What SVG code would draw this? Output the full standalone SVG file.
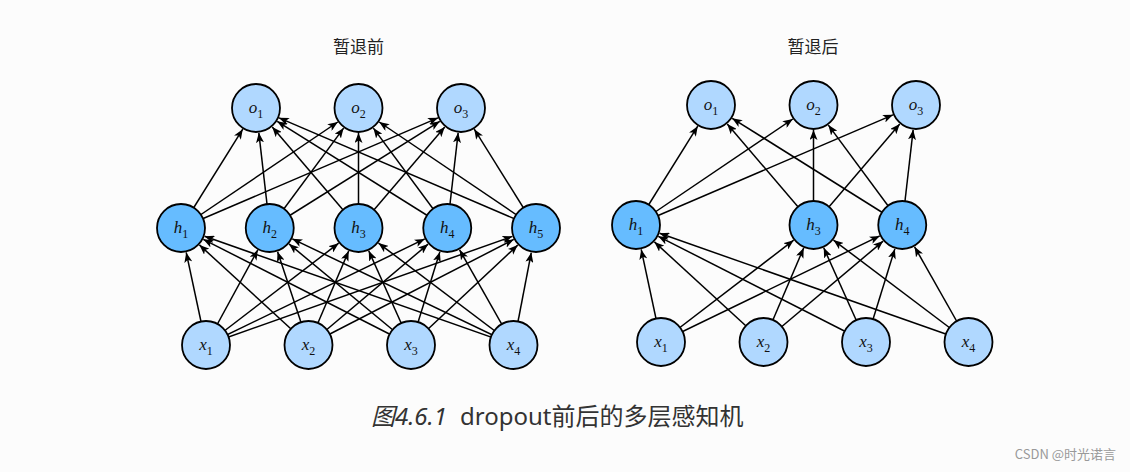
<svg xmlns="http://www.w3.org/2000/svg" width="1130" height="472" viewBox="0 0 1130 472">
<style>
.e{stroke:#000;stroke-width:1.5;fill:none;marker-end:url(#ah)}
.n circle{stroke:#000;stroke-width:1.8}
.lo{fill:#b0d8ff}
.hi{fill:#66bcff}
.lbl{font-family:"Liberation Serif","DejaVu Serif",serif;font-size:17px;font-style:italic;fill:#111;text-anchor:middle}
.sub{font-size:12px;font-style:normal}
.title{font-family:"Noto Sans CJK SC","Noto Sans",sans-serif;font-size:17px;fill:#222;text-anchor:middle}
</style>
<defs>
<marker id="ah" viewBox="0 0 10 8" refX="10" refY="4" markerWidth="10" markerHeight="8" markerUnits="userSpaceOnUse" orient="auto">
<path d="M0,0 L10,4 L0,8 L2.5,4 z" fill="#000"/>
</marker>
</defs>
<rect width="1130" height="472" fill="#fcfcfc"/>

<text class="title" x="358.5" y="53">暂退前</text>
<text class="title" x="813" y="53">暂退后</text>

<g id="left-net">
<g id="connectors-left">
<line class="e" x1="206" y1="345" x2="186.22" y2="252.45"/>
<line class="e" x1="206" y1="345" x2="257.79" y2="249.95"/>
<line class="e" x1="206" y1="345" x2="338.67" y2="243.22"/>
<line class="e" x1="206" y1="345" x2="424.76" y2="238.91"/>
<line class="e" x1="206" y1="345" x2="512.44" y2="236.35"/>
<line class="e" x1="308.5" y1="345" x2="199.42" y2="244.90"/>
<line class="e" x1="308.5" y1="345" x2="277.61" y2="251.73"/>
<line class="e" x1="308.5" y1="345" x2="348.68" y2="250.99"/>
<line class="e" x1="308.5" y1="345" x2="428.14" y2="244.12"/>
<line class="e" x1="308.5" y1="345" x2="513.77" y2="239.43"/>
<line class="e" x1="411" y1="345" x2="203.28" y2="239.33"/>
<line class="e" x1="411" y1="345" x2="289.00" y2="243.95"/>
<line class="e" x1="411" y1="345" x2="368.73" y2="250.81"/>
<line class="e" x1="411" y1="345" x2="439.85" y2="251.88"/>
<line class="e" x1="411" y1="345" x2="517.75" y2="245.08"/>
<line class="e" x1="513.5" y1="345" x2="204.58" y2="236.30"/>
<line class="e" x1="513.5" y1="345" x2="292.29" y2="238.82"/>
<line class="e" x1="513.5" y1="345" x2="378.45" y2="243.06"/>
<line class="e" x1="513.5" y1="345" x2="459.57" y2="249.76"/>
<line class="e" x1="513.5" y1="345" x2="531.28" y2="252.55"/>
<line class="e" x1="181" y1="228" x2="242.75" y2="129.20"/>
<line class="e" x1="181" y1="228" x2="337.79" y2="122.00"/>
<line class="e" x1="181" y1="228" x2="438.02" y2="117.85"/>
<line class="e" x1="269.75" y1="228" x2="258.85" y2="132.84"/>
<line class="e" x1="269.75" y1="228" x2="343.63" y2="128.10"/>
<line class="e" x1="269.75" y1="228" x2="439.82" y2="121.29"/>
<line class="e" x1="358.5" y1="228" x2="272.24" y2="127.01"/>
<line class="e" x1="358.5" y1="228" x2="358.5" y2="133"/>
<line class="e" x1="358.5" y1="228" x2="444.76" y2="127.01"/>
<line class="e" x1="447.25" y1="228" x2="277.18" y2="121.29"/>
<line class="e" x1="447.25" y1="228" x2="373.37" y2="128.10"/>
<line class="e" x1="447.25" y1="228" x2="458.15" y2="132.84"/>
<line class="e" x1="536" y1="228" x2="278.98" y2="117.85"/>
<line class="e" x1="536" y1="228" x2="379.21" y2="122.00"/>
<line class="e" x1="536" y1="228" x2="474.25" y2="129.20"/>
</g>
<g id="L-o1" class="n"><circle class="lo" cx="256" cy="108" r="24"/><text class="lbl" x="256" y="113">o<tspan class="sub" dy="5">1</tspan></text></g>
<g id="L-o2" class="n"><circle class="lo" cx="358.5" cy="108" r="24"/><text class="lbl" x="358.5" y="113">o<tspan class="sub" dy="5">2</tspan></text></g>
<g id="L-o3" class="n"><circle class="lo" cx="461" cy="108" r="24"/><text class="lbl" x="461" y="113">o<tspan class="sub" dy="5">3</tspan></text></g>
<g id="L-h1" class="n"><circle class="hi" cx="181" cy="228" r="24"/><text class="lbl" x="181" y="233">h<tspan class="sub" dy="5">1</tspan></text></g>
<g id="L-h2" class="n"><circle class="hi" cx="269.75" cy="228" r="24"/><text class="lbl" x="269.75" y="233">h<tspan class="sub" dy="5">2</tspan></text></g>
<g id="L-h3" class="n"><circle class="hi" cx="358.5" cy="228" r="24"/><text class="lbl" x="358.5" y="233">h<tspan class="sub" dy="5">3</tspan></text></g>
<g id="L-h4" class="n"><circle class="hi" cx="447.25" cy="228" r="24"/><text class="lbl" x="447.25" y="233">h<tspan class="sub" dy="5">4</tspan></text></g>
<g id="L-h5" class="n"><circle class="hi" cx="536" cy="228" r="24"/><text class="lbl" x="536" y="233">h<tspan class="sub" dy="5">5</tspan></text></g>
<g id="L-x1" class="n"><circle class="lo" cx="206" cy="345" r="24"/><text class="lbl" x="206" y="350">x<tspan class="sub" dy="5">1</tspan></text></g>
<g id="L-x2" class="n"><circle class="lo" cx="308.5" cy="345" r="24"/><text class="lbl" x="308.5" y="350">x<tspan class="sub" dy="5">2</tspan></text></g>
<g id="L-x3" class="n"><circle class="lo" cx="411" cy="345" r="24"/><text class="lbl" x="411" y="350">x<tspan class="sub" dy="5">3</tspan></text></g>
<g id="L-x4" class="n"><circle class="lo" cx="513.5" cy="345" r="24"/><text class="lbl" x="513.5" y="350">x<tspan class="sub" dy="5">4</tspan></text></g>
</g>

<g id="right-net" transform="translate(455,-3)">
<g id="connectors-right">
<line class="e" x1="206" y1="345" x2="186.22" y2="252.45"/>
<line class="e" x1="206" y1="345" x2="338.67" y2="243.22"/>
<line class="e" x1="206" y1="345" x2="424.76" y2="238.91"/>
<line class="e" x1="308.5" y1="345" x2="199.42" y2="244.90"/>
<line class="e" x1="308.5" y1="345" x2="348.68" y2="250.99"/>
<line class="e" x1="308.5" y1="345" x2="428.14" y2="244.12"/>
<line class="e" x1="411" y1="345" x2="203.28" y2="239.33"/>
<line class="e" x1="411" y1="345" x2="368.73" y2="250.81"/>
<line class="e" x1="411" y1="345" x2="439.85" y2="251.88"/>
<line class="e" x1="513.5" y1="345" x2="204.58" y2="236.30"/>
<line class="e" x1="513.5" y1="345" x2="378.45" y2="243.06"/>
<line class="e" x1="513.5" y1="345" x2="459.57" y2="249.76"/>
<line class="e" x1="181" y1="228" x2="242.75" y2="129.20"/>
<line class="e" x1="181" y1="228" x2="337.79" y2="122.00"/>
<line class="e" x1="181" y1="228" x2="438.02" y2="117.85"/>
<line class="e" x1="358.5" y1="228" x2="272.24" y2="127.01"/>
<line class="e" x1="358.5" y1="228" x2="358.5" y2="133"/>
<line class="e" x1="358.5" y1="228" x2="444.76" y2="127.01"/>
<line class="e" x1="447.25" y1="228" x2="277.18" y2="121.29"/>
<line class="e" x1="447.25" y1="228" x2="373.37" y2="128.10"/>
<line class="e" x1="447.25" y1="228" x2="458.15" y2="132.84"/>
</g>
<g id="R-o1" class="n"><circle class="lo" cx="256" cy="108" r="24"/><text class="lbl" x="256" y="113">o<tspan class="sub" dy="5">1</tspan></text></g>
<g id="R-o2" class="n"><circle class="lo" cx="358.5" cy="108" r="24"/><text class="lbl" x="358.5" y="113">o<tspan class="sub" dy="5">2</tspan></text></g>
<g id="R-o3" class="n"><circle class="lo" cx="461" cy="108" r="24"/><text class="lbl" x="461" y="113">o<tspan class="sub" dy="5">3</tspan></text></g>
<g id="R-h1" class="n"><circle class="hi" cx="181" cy="228" r="24"/><text class="lbl" x="181" y="233">h<tspan class="sub" dy="5">1</tspan></text></g>
<g id="R-h3" class="n"><circle class="hi" cx="358.5" cy="228" r="24"/><text class="lbl" x="358.5" y="233">h<tspan class="sub" dy="5">3</tspan></text></g>
<g id="R-h4" class="n"><circle class="hi" cx="447.25" cy="228" r="24"/><text class="lbl" x="447.25" y="233">h<tspan class="sub" dy="5">4</tspan></text></g>
<g id="R-x1" class="n"><circle class="lo" cx="206" cy="345" r="24"/><text class="lbl" x="206" y="350">x<tspan class="sub" dy="5">1</tspan></text></g>
<g id="R-x2" class="n"><circle class="lo" cx="308.5" cy="345" r="24"/><text class="lbl" x="308.5" y="350">x<tspan class="sub" dy="5">2</tspan></text></g>
<g id="R-x3" class="n"><circle class="lo" cx="411" cy="345" r="24"/><text class="lbl" x="411" y="350">x<tspan class="sub" dy="5">3</tspan></text></g>
<g id="R-x4" class="n"><circle class="lo" cx="513.5" cy="345" r="24"/><text class="lbl" x="513.5" y="350">x<tspan class="sub" dy="5">4</tspan></text></g>
</g>

<text x="371" y="425" font-family="'Noto Sans','Noto Sans CJK SC',sans-serif" font-size="24" fill="#333"><tspan font-style="italic">图4.6.1</tspan><tspan dx="13">dropout前后的多层感知机</tspan></text>
<text x="1116" y="459" font-family="'Noto Sans CJK SC','Noto Sans',sans-serif" font-size="13" fill="#999" text-anchor="end">CSDN @时光诺言</text>
</svg>
